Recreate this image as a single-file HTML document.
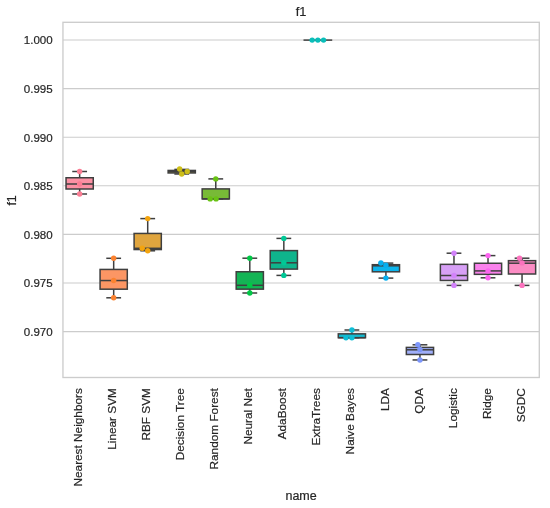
<!DOCTYPE html>
<html><head><meta charset="utf-8"><title>f1</title>
<style>html,body{margin:0;padding:0;background:#fff}svg{display:block}</style>
</head><body>
<svg width="550" height="508" viewBox="0 0 550 508" font-family="Liberation Sans, sans-serif" fill="#262626">
<rect width="550" height="508" fill="#fff" stroke="none"/>
<line x1="62.95" x2="539.3" y1="40.00" y2="40.00" stroke="#cccccc" stroke-width="1.1"/>
<line x1="62.95" x2="539.3" y1="88.60" y2="88.60" stroke="#cccccc" stroke-width="1.1"/>
<line x1="62.95" x2="539.3" y1="137.20" y2="137.20" stroke="#cccccc" stroke-width="1.1"/>
<line x1="62.95" x2="539.3" y1="185.80" y2="185.80" stroke="#cccccc" stroke-width="1.1"/>
<line x1="62.95" x2="539.3" y1="234.40" y2="234.40" stroke="#cccccc" stroke-width="1.1"/>
<line x1="62.95" x2="539.3" y1="283.00" y2="283.00" stroke="#cccccc" stroke-width="1.1"/>
<line x1="62.95" x2="539.3" y1="331.60" y2="331.60" stroke="#cccccc" stroke-width="1.1"/>
<g stroke="#3f3f3f" stroke-width="1.5" fill="none"><line x1="79.65" x2="79.65" y1="177.75" y2="171.50"/><line x1="79.65" x2="79.65" y1="189.00" y2="194.00"/><line x1="72.25" x2="87.05" y1="171.50" y2="171.50"/><line x1="72.25" x2="87.05" y1="194.00" y2="194.00"/><rect x="66.04" y="177.75" width="27.22" height="11.25" fill="#fc91a4"/><line x1="66.04" x2="93.26" y1="184.00" y2="184.00"/></g>
<g stroke="#3f3f3f" stroke-width="1.5" fill="none"><line x1="113.68" x2="113.68" y1="269.43" y2="258.30"/><line x1="113.68" x2="113.68" y1="289.18" y2="297.80"/><line x1="106.28" x2="121.08" y1="258.30" y2="258.30"/><line x1="106.28" x2="121.08" y1="297.80" y2="297.80"/><rect x="100.07" y="269.43" width="27.22" height="19.75" fill="#fc9664"/><line x1="100.07" x2="127.29" y1="280.55" y2="280.55"/></g>
<g stroke="#3f3f3f" stroke-width="1.5" fill="none"><line x1="147.71" x2="147.71" y1="233.45" y2="218.60"/><line x1="147.71" x2="147.71" y1="249.55" y2="250.80"/><line x1="140.31" x2="155.11" y1="218.60" y2="218.60"/><line x1="140.31" x2="155.11" y1="250.80" y2="250.80"/><rect x="134.10" y="233.45" width="27.22" height="16.10" fill="#e0a53e"/><line x1="134.10" x2="161.32" y1="248.30" y2="248.30"/></g>
<g stroke="#3f3f3f" stroke-width="1.5" fill="none"><line x1="181.74" x2="181.74" y1="170.45" y2="169.40"/><line x1="181.74" x2="181.74" y1="172.95" y2="174.00"/><line x1="174.34" x2="189.14" y1="169.40" y2="169.40"/><line x1="174.34" x2="189.14" y1="174.00" y2="174.00"/><rect x="168.13" y="170.45" width="27.22" height="2.50" fill="#beb439"/><line x1="168.13" x2="195.35" y1="171.70" y2="171.70"/></g>
<g stroke="#3f3f3f" stroke-width="1.5" fill="none"><line x1="215.77" x2="215.77" y1="188.90" y2="178.90"/><line x1="215.77" x2="215.77" y1="198.90" y2="198.90"/><line x1="208.37" x2="223.17" y1="178.90" y2="178.90"/><line x1="208.37" x2="223.17" y1="198.90" y2="198.90"/><rect x="202.16" y="188.90" width="27.22" height="10.00" fill="#78ba37"/><line x1="202.16" x2="229.38" y1="198.90" y2="198.90"/></g>
<g stroke="#3f3f3f" stroke-width="1.5" fill="none"><line x1="249.80" x2="249.80" y1="271.75" y2="258.20"/><line x1="249.80" x2="249.80" y1="289.15" y2="293.00"/><line x1="242.40" x2="257.20" y1="258.20" y2="258.20"/><line x1="242.40" x2="257.20" y1="293.00" y2="293.00"/><rect x="236.19" y="271.75" width="27.22" height="17.40" fill="#14b455"/><line x1="236.19" x2="263.41" y1="285.30" y2="285.30"/></g>
<g stroke="#3f3f3f" stroke-width="1.5" fill="none"><line x1="283.83" x2="283.83" y1="250.60" y2="238.40"/><line x1="283.83" x2="283.83" y1="269.10" y2="275.40"/><line x1="276.43" x2="291.23" y1="238.40" y2="238.40"/><line x1="276.43" x2="291.23" y1="275.40" y2="275.40"/><rect x="270.22" y="250.60" width="27.22" height="18.50" fill="#0fb48c"/><line x1="270.22" x2="297.44" y1="262.80" y2="262.80"/></g>
<line x1="303.50" x2="332.22" y1="40.10" y2="40.10" stroke="#3f3f3f" stroke-width="1.5"/>
<g stroke="#3f3f3f" stroke-width="1.5" fill="none"><line x1="351.89" x2="351.89" y1="333.85" y2="330.00"/><line x1="351.89" x2="351.89" y1="337.70" y2="337.70"/><line x1="344.49" x2="359.29" y1="330.00" y2="330.00"/><line x1="344.49" x2="359.29" y1="337.70" y2="337.70"/><rect x="338.28" y="333.85" width="27.22" height="3.85" fill="#14bad0"/><line x1="338.28" x2="365.50" y1="337.70" y2="337.70"/></g>
<g stroke="#3f3f3f" stroke-width="1.5" fill="none"><line x1="385.92" x2="385.92" y1="264.70" y2="263.10"/><line x1="385.92" x2="385.92" y1="271.80" y2="278.10"/><line x1="378.52" x2="393.32" y1="263.10" y2="263.10"/><line x1="378.52" x2="393.32" y1="278.10" y2="278.10"/><rect x="372.31" y="264.70" width="27.22" height="7.10" fill="#0cb4ec"/><line x1="372.31" x2="399.53" y1="265.80" y2="265.80"/></g>
<g stroke="#3f3f3f" stroke-width="1.5" fill="none"><line x1="419.95" x2="419.95" y1="347.40" y2="344.80"/><line x1="419.95" x2="419.95" y1="354.50" y2="359.95"/><line x1="412.55" x2="427.35" y1="344.80" y2="344.80"/><line x1="412.55" x2="427.35" y1="359.95" y2="359.95"/><rect x="406.34" y="347.40" width="27.22" height="7.10" fill="#a0affa"/><line x1="406.34" x2="433.56" y1="349.80" y2="349.80"/></g>
<g stroke="#3f3f3f" stroke-width="1.5" fill="none"><line x1="453.98" x2="453.98" y1="264.35" y2="253.20"/><line x1="453.98" x2="453.98" y1="280.45" y2="285.40"/><line x1="446.58" x2="461.38" y1="253.20" y2="253.20"/><line x1="446.58" x2="461.38" y1="285.40" y2="285.40"/><rect x="440.37" y="264.35" width="27.22" height="16.10" fill="#d7a0f6"/><line x1="440.37" x2="467.59" y1="275.50" y2="275.50"/></g>
<g stroke="#3f3f3f" stroke-width="1.5" fill="none"><line x1="488.01" x2="488.01" y1="263.25" y2="255.60"/><line x1="488.01" x2="488.01" y1="274.35" y2="277.80"/><line x1="480.61" x2="495.41" y1="255.60" y2="255.60"/><line x1="480.61" x2="495.41" y1="277.80" y2="277.80"/><rect x="474.40" y="263.25" width="27.22" height="11.10" fill="#fa82ec"/><line x1="474.40" x2="501.62" y1="270.90" y2="270.90"/></g>
<g stroke="#3f3f3f" stroke-width="1.5" fill="none"><line x1="522.04" x2="522.04" y1="260.65" y2="258.20"/><line x1="522.04" x2="522.04" y1="274.00" y2="285.40"/><line x1="514.64" x2="529.44" y1="258.20" y2="258.20"/><line x1="514.64" x2="529.44" y1="285.40" y2="285.40"/><rect x="508.43" y="260.65" width="27.22" height="13.35" fill="#fc8cc4"/><line x1="508.43" x2="535.65" y1="263.20" y2="263.20"/></g>
<circle cx="79.65" cy="171.50" r="2.7" fill="#fa7d94"/>
<circle cx="79.65" cy="184.00" r="2.7" fill="#fa7d94"/>
<circle cx="79.65" cy="194.00" r="2.7" fill="#fa7d94"/>
<circle cx="113.68" cy="258.30" r="2.7" fill="#fb8230"/>
<circle cx="113.68" cy="280.50" r="2.7" fill="#fb8230"/>
<circle cx="113.68" cy="297.80" r="2.7" fill="#fb8230"/>
<circle cx="147.71" cy="218.60" r="2.7" fill="#f3a40e"/>
<circle cx="142.21" cy="248.30" r="2.7" fill="#f3a40e"/>
<circle cx="147.71" cy="250.80" r="2.7" fill="#f3a40e"/>
<circle cx="179.64" cy="169.00" r="2.7" fill="#cdbe19"/>
<circle cx="187.24" cy="171.50" r="2.7" fill="#cdbe19"/>
<circle cx="181.74" cy="174.00" r="2.7" fill="#cdbe19"/>
<circle cx="215.77" cy="178.90" r="2.7" fill="#69c314"/>
<circle cx="210.17" cy="198.90" r="2.7" fill="#69c314"/>
<circle cx="216.07" cy="198.90" r="2.7" fill="#69c314"/>
<circle cx="249.80" cy="258.20" r="2.7" fill="#00c846"/>
<circle cx="249.80" cy="285.30" r="2.7" fill="#00c846"/>
<circle cx="249.80" cy="293.00" r="2.7" fill="#00c846"/>
<circle cx="283.83" cy="238.40" r="2.7" fill="#00c896"/>
<circle cx="283.83" cy="262.80" r="2.7" fill="#00c896"/>
<circle cx="283.83" cy="275.40" r="2.7" fill="#00c896"/>
<circle cx="312.16" cy="40.10" r="2.7" fill="#0abeb9"/>
<circle cx="317.86" cy="40.10" r="2.7" fill="#0abeb9"/>
<circle cx="323.56" cy="40.10" r="2.7" fill="#0abeb9"/>
<circle cx="351.89" cy="330.00" r="2.7" fill="#0ebed6"/>
<circle cx="345.99" cy="337.80" r="2.7" fill="#0ebed6"/>
<circle cx="351.89" cy="337.80" r="2.7" fill="#0ebed6"/>
<circle cx="380.92" cy="263.00" r="2.7" fill="#05aff0"/>
<circle cx="385.92" cy="265.30" r="2.7" fill="#05aff0"/>
<circle cx="385.92" cy="278.10" r="2.7" fill="#05aff0"/>
<circle cx="417.85" cy="344.70" r="2.7" fill="#7d96fa"/>
<circle cx="419.95" cy="349.40" r="2.7" fill="#7d96fa"/>
<circle cx="419.95" cy="360.00" r="2.7" fill="#7d96fa"/>
<circle cx="453.98" cy="253.20" r="2.7" fill="#d282fa"/>
<circle cx="453.98" cy="275.50" r="2.7" fill="#d282fa"/>
<circle cx="453.98" cy="285.40" r="2.7" fill="#d282fa"/>
<circle cx="488.01" cy="255.60" r="2.7" fill="#fc64f0"/>
<circle cx="488.01" cy="270.90" r="2.7" fill="#fc64f0"/>
<circle cx="488.01" cy="277.80" r="2.7" fill="#fc64f0"/>
<circle cx="519.54" cy="258.20" r="2.7" fill="#fc73be"/>
<circle cx="522.04" cy="262.90" r="2.7" fill="#fc73be"/>
<circle cx="522.04" cy="285.40" r="2.7" fill="#fc73be"/>
<rect x="62.95" y="22.3" width="476.35" height="355.20" fill="none" stroke="#cccccc" stroke-width="1.35"/>
<g stroke="#262626" stroke-width="0.2">
<text x="52.7" y="44.35" font-size="11.55" text-anchor="end">1.000</text>
<text x="52.7" y="92.95" font-size="11.55" text-anchor="end">0.995</text>
<text x="52.7" y="141.55" font-size="11.55" text-anchor="end">0.990</text>
<text x="52.7" y="190.15" font-size="11.55" text-anchor="end">0.985</text>
<text x="52.7" y="238.75" font-size="11.55" text-anchor="end">0.980</text>
<text x="52.7" y="287.35" font-size="11.55" text-anchor="end">0.975</text>
<text x="52.7" y="335.95" font-size="11.55" text-anchor="end">0.970</text>
<text transform="translate(82.25,388.15) rotate(-90)" font-size="11.8" text-anchor="end">Nearest Neighbors</text>
<text transform="translate(116.28,388.15) rotate(-90)" font-size="11.8" text-anchor="end">Linear SVM</text>
<text transform="translate(150.31,388.15) rotate(-90)" font-size="11.8" text-anchor="end">RBF SVM</text>
<text transform="translate(184.34,388.15) rotate(-90)" font-size="11.8" text-anchor="end">Decision Tree</text>
<text transform="translate(218.37,388.15) rotate(-90)" font-size="11.8" text-anchor="end">Random Forest</text>
<text transform="translate(252.40,388.15) rotate(-90)" font-size="11.8" text-anchor="end">Neural Net</text>
<text transform="translate(286.43,388.15) rotate(-90)" font-size="11.8" text-anchor="end">AdaBoost</text>
<text transform="translate(320.46,388.15) rotate(-90)" font-size="11.8" text-anchor="end">ExtraTrees</text>
<text transform="translate(354.49,388.15) rotate(-90)" font-size="11.8" text-anchor="end">Naive Bayes</text>
<text transform="translate(388.52,388.15) rotate(-90)" font-size="11.8" text-anchor="end">LDA</text>
<text transform="translate(422.55,388.15) rotate(-90)" font-size="11.8" text-anchor="end">QDA</text>
<text transform="translate(456.58,388.15) rotate(-90)" font-size="11.8" text-anchor="end">Logistic</text>
<text transform="translate(490.61,388.15) rotate(-90)" font-size="11.8" text-anchor="end">Ridge</text>
<text transform="translate(524.64,388.15) rotate(-90)" font-size="11.8" text-anchor="end">SGDC</text>
<text x="301.12" y="15.5" font-size="12.8" text-anchor="middle">f1</text>
<text x="301.12" y="499.5" font-size="12.5" text-anchor="middle">name</text>
<text transform="translate(16.0,200.4) rotate(-90)" font-size="12.5" text-anchor="middle">f1</text>
</g>
</svg>
</body></html>
